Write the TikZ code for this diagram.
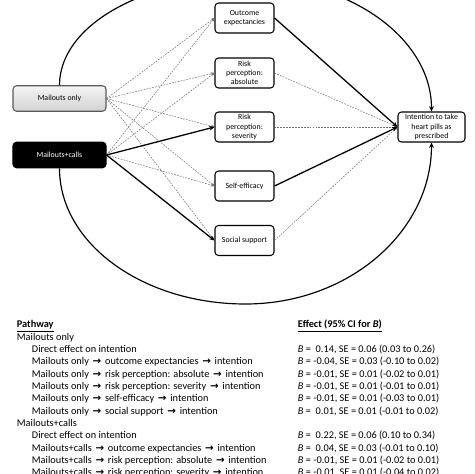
\documentclass[tikz,border=0pt]{standalone}
\usepackage{fontspec}
\setmainfont{Carlito}
\newfontfamily\arrowfont{DejaVu Sans}
\usetikzlibrary{arrows.meta}
\newcommand{\via}{\hspace{1.2pt}{\arrowfont\bfseries →}\hspace{1.2pt}}
\newcommand{\ind}{\hspace*{12.8pt}}

\begin{document}
\begin{tikzpicture}[x=0.03cm, y=-0.03cm,
  box/.style={draw, line width=0.9pt, rounded corners=3pt, align=center, inner sep=1pt, font=\fontsize{6.7}{7.9}\selectfont},
  armbox/.style={box, minimum width=2.79cm, minimum height=0.765cm},
  medbox/.style={box, minimum width=1.77cm, minimum height=0.9cm},
  weak/.style={-{Stealth[length=3pt,width=2.6pt]}, black!55, line width=0.45pt, dash pattern=on 1.5pt off 1pt},
  strong/.style={-{Stealth[length=4.5pt,width=4pt]}, line width=1.1pt}]
  \clip (0,0) rectangle (474,474);
  % arms
  \node[armbox, top color=gray!8, bottom color=gray!35, draw=gray!70!black] (mo) at (59.5,98.5) {Mailouts only};
  \node[armbox, fill=black, text=white] (mc) at (59.5,155) {Mailouts+calls};
  % mediators
  \node[medbox] (oe) at (244.5,18) {Outcome\\expectancies};
  \node[medbox] (rpa) at (244.5,73) {Risk\\perception:\\absolute};
  \node[medbox] (rps) at (244.5,127) {Risk\\perception:\\severity};
  \node[medbox] (se) at (244.5,186) {Self-efficacy};
  \node[medbox] (ss) at (244.5,240.5) {Social support};
  \node[box, minimum width=2.01cm, minimum height=0.9cm] (int) at (431.5,127) {Intention to take\\heart pills as\\prescribed};
  % paths
  \foreach \m in {oe,rpa,rps,se,ss}
    \draw[weak] (mo.east) -- (\m.west);
  \foreach \m in {oe,rpa,se}
    \draw[weak] (mc.east) -- (\m.west);
  \foreach \m in {rps,ss}
    \draw[strong] (mc.east) -- (\m.west);
  \foreach \m in {rpa,rps,ss}
    \draw[weak] (\m.east) -- (int.west);
  \foreach \m in {oe,se}
    \draw[strong] (\m.east) -- (int.west);
  % direct effects
  \coordinate (apex) at (245.5,-21.6);
  \coordinate (base) at (245.5,304);
  \draw[strong, line width=1pt] (mo.north) .. controls +(0,-59.4) and +(-102.7,0) .. (apex)
    .. controls +(102.7,0) and +(0,-73.8) .. (int.north);
  \draw[strong, line width=1pt] (mc.south) .. controls +(0,75.1) and +(-102.7,0) .. (base)
    .. controls +(102.7,0) and +(0,89.5) .. (int.south);
  % table
  \node[anchor=north west, inner sep=0pt, font=\fontsize{8.8}{10.5}\selectfont] (tbl) at (16.7,318.9) {%
    \begin{tabular}{@{}p{239.9pt}@{}l@{}}
      \underline{\textbf{Pathway}} & \underline{\textbf{Effect (95\% CI for \textit{B})}}\\
      Mailouts only & \\
      \ind Direct effect on intention & \textit{B} =\ \ 0.14, SE = 0.06 (0.03 to 0.26)\\
      \ind Mailouts only \via{} outcome expectancies \via{} intention & \textit{B} = -0.04, SE = 0.03 (-0.10 to 0.02)\\
      \ind Mailouts only \via{} risk perception: absolute \via{} intention & \textit{B} = -0.01, SE = 0.01 (-0.02 to 0.01)\\
      \ind Mailouts only \via{} risk perception: severity \via{} intention & \textit{B} = -0.01, SE = 0.01 (-0.01 to 0.01)\\
      \ind Mailouts only \via{} self-efficacy \via{} intention & \textit{B} = -0.01, SE = 0.01 (-0.03 to 0.01)\\
      \ind Mailouts only \via{} social support \via{} intention & \textit{B} =\ \ 0.01, SE = 0.01 (-0.01 to 0.02)\\
      Mailouts+calls & \\
      \ind Direct effect on intention & \textit{B} =\ \ 0.22, SE = 0.06 (0.10 to 0.34)\\
      \ind Mailouts+calls \via{} outcome expectancies \via{} intention & \textit{B} =\ \ 0.04, SE = 0.03 (-0.01 to 0.10)\\
      \ind Mailouts+calls \via{} risk perception: absolute \via{} intention & \textit{B} = -0.01, SE = 0.01 (-0.02 to 0.01)\\
      \ind Mailouts+calls \via{} risk perception: severity \via{} intention & \textit{B} = -0.01, SE = 0.01 (-0.04 to 0.02)\\
    \end{tabular}};
\end{tikzpicture}
\end{document}
